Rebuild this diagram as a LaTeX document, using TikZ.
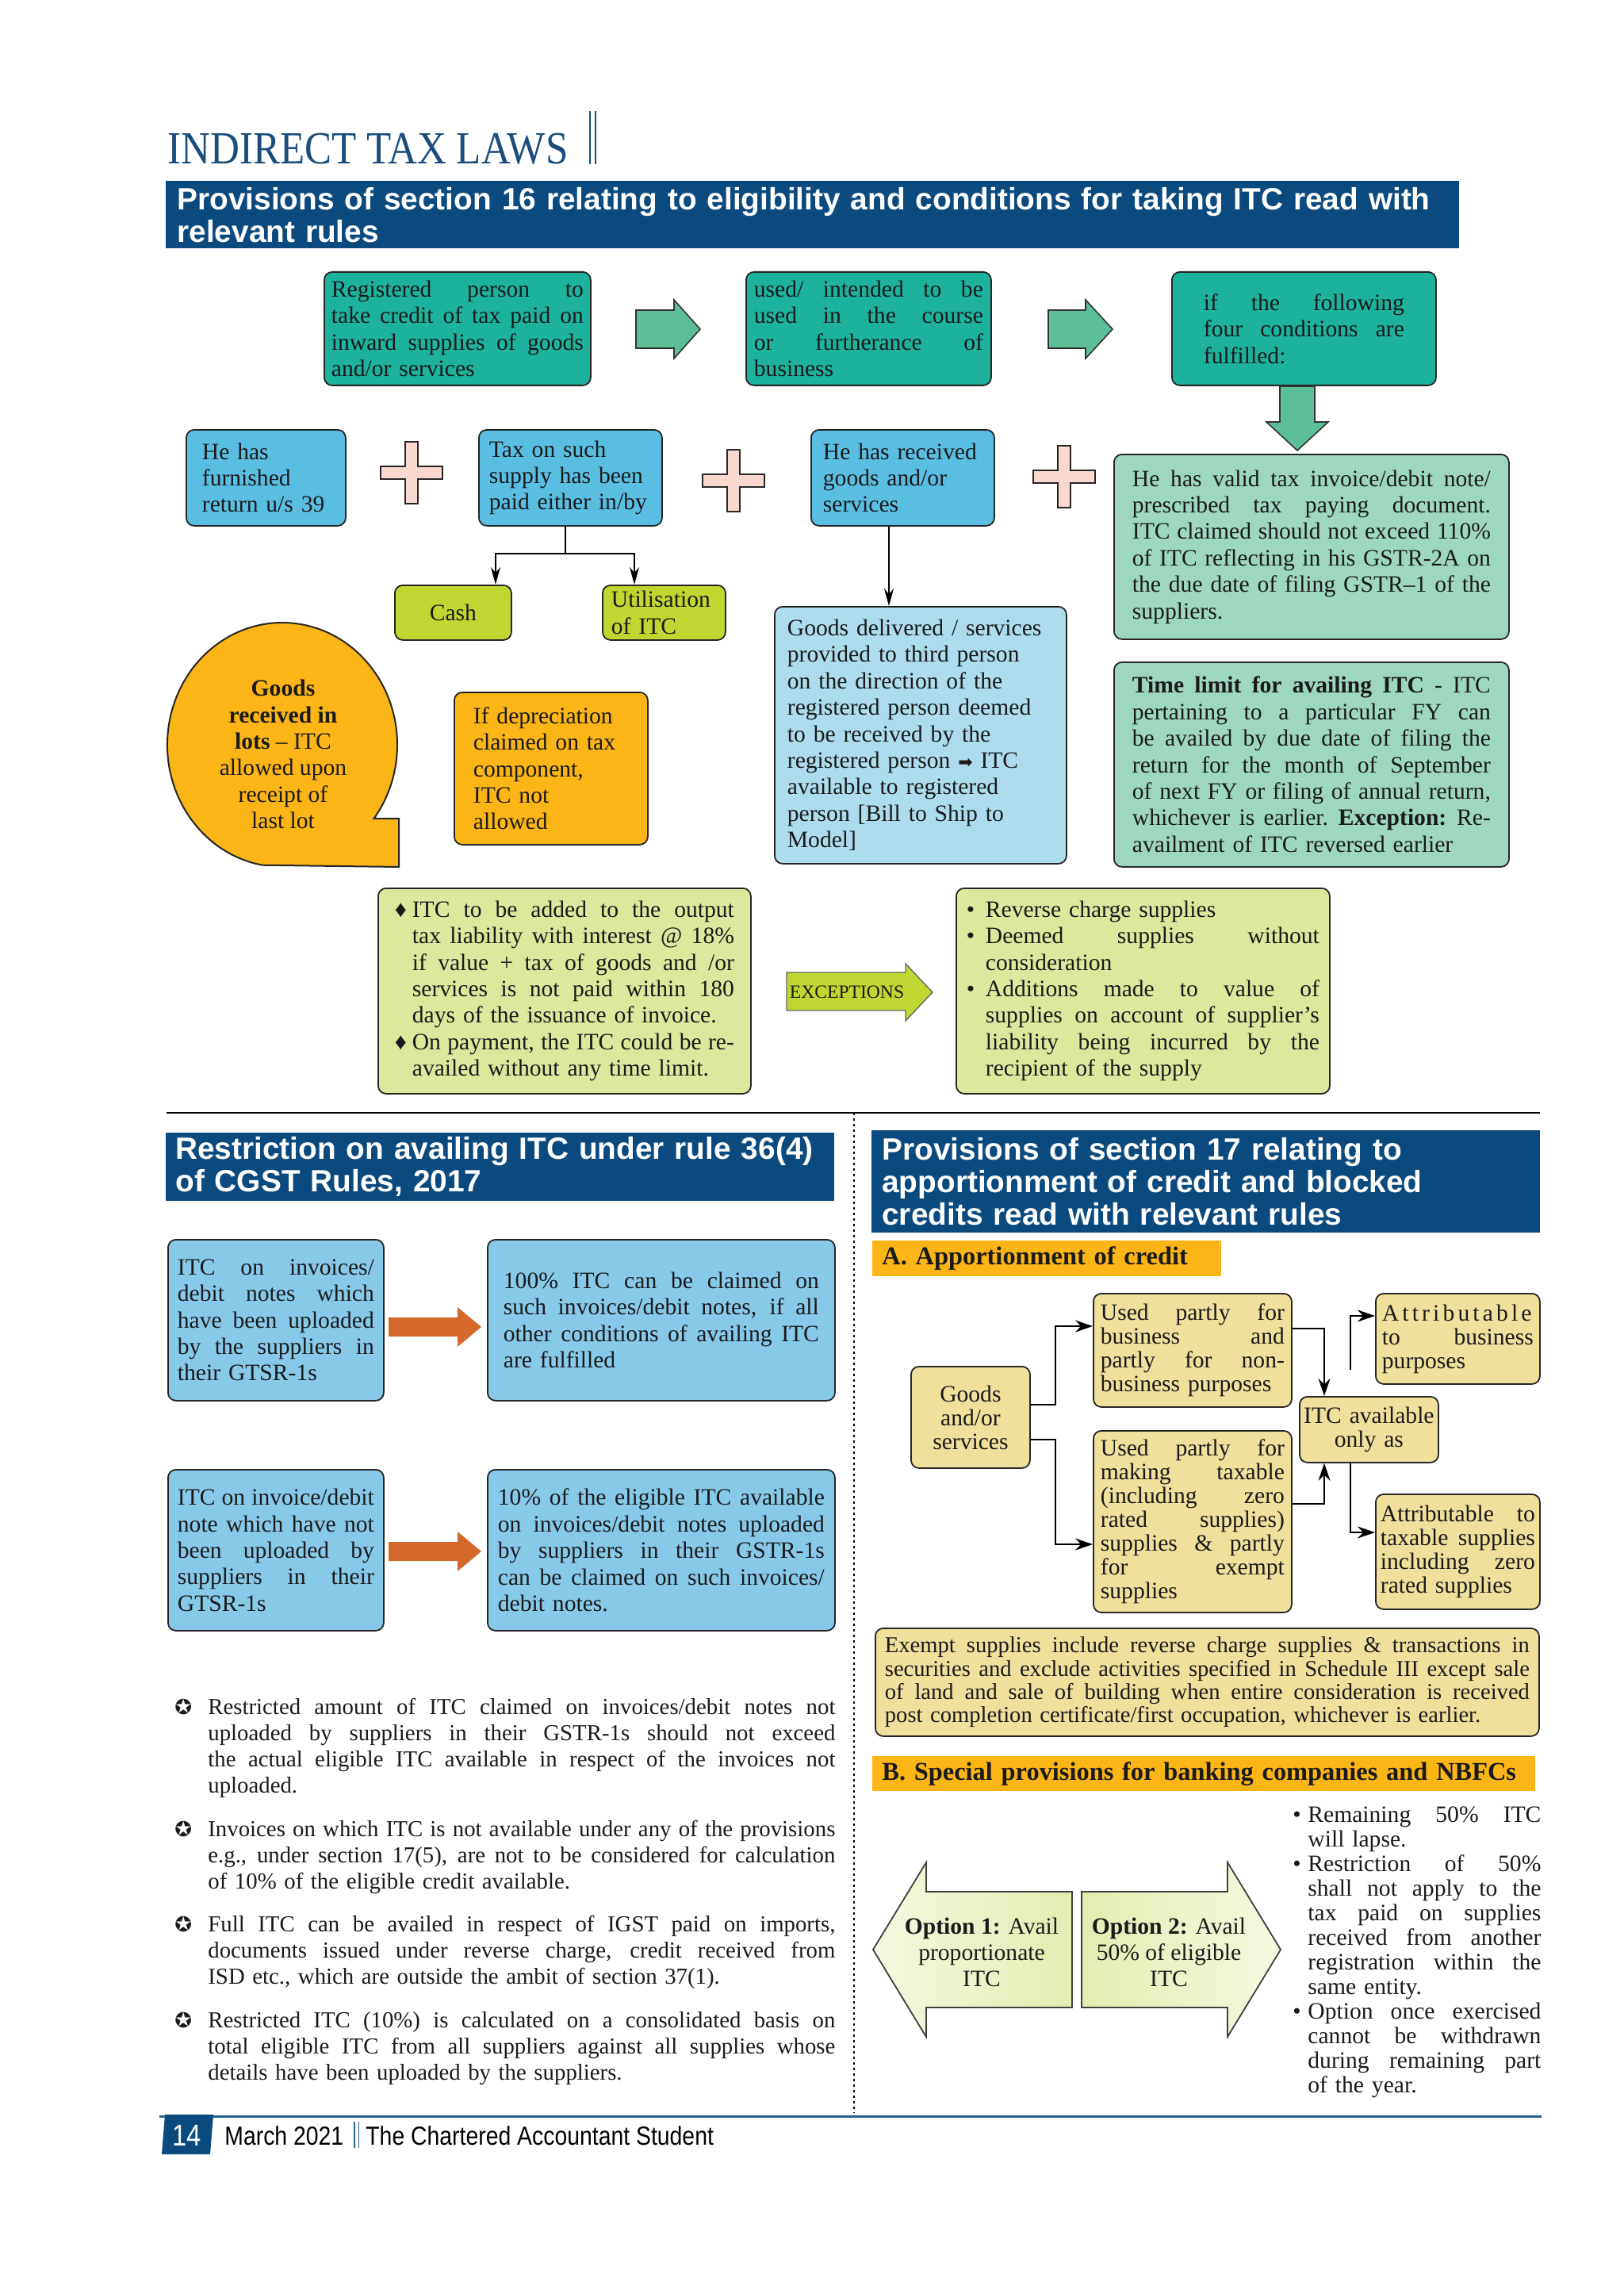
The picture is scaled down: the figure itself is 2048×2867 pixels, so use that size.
\documentclass[tikz,border=0pt]{standalone}
\usepackage{fontspec}
\setmainfont{Liberation Serif}
\newfontfamily\headfont{Liberation Sans}
\newfontfamily\footfont[FakeStretch=0.86]{Liberation Sans}
\newfontfamily\hdrserif[FakeStretch=0.88]{Liberation Serif}
\newfontfamily\symfont{DejaVu Sans}
\usetikzlibrary{arrows.meta,calc}

\definecolor{teal}{HTML}{1DB29B}
\definecolor{mintarr}{HTML}{5CBF97}
\definecolor{sky}{HTML}{5ABEE3}
\definecolor{pinkp}{HTML}{F9D8CF}
\definecolor{lime}{HTML}{BFD730}
\definecolor{amber}{HTML}{FBB516}
\definecolor{lblue}{HTML}{ADDCEC}
\definecolor{mintbox}{HTML}{9ED7C0}
\definecolor{limepale}{HTML}{DDE89D}
\definecolor{blue2}{HTML}{87C9E9}
\definecolor{orangeA}{HTML}{D5692C}
\definecolor{khaki}{HTML}{EFE09C}
\definecolor{navy}{HTML}{0B4A7E}
\definecolor{hdrblue}{HTML}{1A4C7C}
\definecolor{footblue}{HTML}{25628F}
\definecolor{txt}{HTML}{1A1A1A}

\newlength\bi
\newlength\jw
\newcommand{\sps}{\spaceskip=0.25em plus 4em minus 0.1em\relax\xspaceskip=0.3em plus 4em minus 0.1em\relax}
% justified line of fixed width \jw
\newcommand{\jl}[1]{\leavevmode\hbox to\jw{\sps #1}\\}
\newcommand{\bj}[2]{\leavevmode\hbox to\jw{\hbox to\bi{#1\hss}\hbox to\dimexpr\jw-\bi\relax{\sps #2}}\\}
\newcommand{\bn}[2]{\leavevmode\hbox to\bi{#1\hss}#2}

% #1 pad, #2 name, #3 x1, #4 y1, #5 x2, #6 y2, #7 style, #8 text
\newcommand{\bx}[8][5]{%
  \pgfmathsetlengthmacro\bxw{(#5-#3)*0.5}%
  \pgfmathsetlengthmacro\bxh{(#6-#4)*0.5}%
  \pgfmathsetlengthmacro\bxt{(#5-#3)*0.5-2*#1}%
  \global\jw=\bxt\relax
  \node[#7, anchor=north west, inner xsep=#1pt, minimum width=\bxw, minimum height=\bxh, text width=\bxt] (#2) at (#3,#4) {#8};}

\tikzset{
  bxs/.style={draw=black!85, line width=0.9pt, rounded corners=5pt, align=left, text=txt, font=\fontsize{14.8}{16.7}\selectfont},
  bxa/.style={bxs, font=\fontsize{14.8}{15}\selectfont},
  headbar/.style={fill=navy, align=left, text=white, inner ysep=2pt, font=\headfont\bfseries\fontsize{19.4}{20.5}\selectfont},
  subbar/.style={fill=amber, align=left, text=txt, inner ysep=1pt, font=\bfseries\fontsize{16.2}{18}\selectfont},
  tree/.style={draw=black, line width=0.8pt},
  treearr/.style={tree, -{Stealth[length=11pt,width=6pt]}},
  conA/.style={draw=black, line width=1pt, -{Stealth[length=11pt,width=7.5pt]}},
  blockarr/.style={draw=black!80, line width=0.8pt, fill=mintarr},
  plusst/.style={draw=black!85, line width=0.9pt, fill=pinkp},
  orarr/.style={fill=orangeA},
  optarr/.style={draw=black!75, line width=0.9pt},
  para/.style={anchor=base west, inner sep=0pt, align=left, text=txt, font=\fontsize{14.4}{16.5}\selectfont},
  star/.style={anchor=base west, inner sep=0pt, font=\symfont\fontsize{13}{13}\selectfont, text=txt},
}

\newcommand{\plussign}[2]{\filldraw[plusst] (#1-8,#2-39) -- ++(16,0) -- ++(0,31) -- ++(31,0) -- ++(0,16) -- ++(-31,0) -- ++(0,31) -- ++(-16,0) -- ++(0,-31) -- ++(-31,0) -- ++(0,-16) -- ++(31,0) -- cycle;}

\begin{document}
\begin{tikzpicture}[x=0.5pt,y=-0.5pt]
\useasboundingbox[fill=white] (0,0) rectangle (2048,2867);

% ---------- header ----------
\node[anchor=base west, inner sep=0pt, font=\hdrserif\fontsize{29}{30}\selectfont, text=hdrblue] (hdr) at (211,207) {INDIRECT TAX LAWS};
\draw[hdrblue, line width=1pt] (744,140) -- (744,207);
\draw[hdrblue, line width=0.6pt] (751,140) -- (751,207);

\bx[7]{h1}{209}{228}{1840}{313}{headbar}{Provisions of section 16 relating to eligibility and conditions for taking ITC read with\\relevant rules}

% ---------- top row ----------
\bx[4.5]{t1}{408}{342}{744}{485}{bxs, fill=teal}{\jl{Registered person to}\jl{take credit of tax paid on}\jl{inward supplies of goods}and/or services}
\bx[5]{t2}{940}{342}{1249}{485}{bxs, fill=teal}{\jl{used/ intended to be}\jl{used in the course}\jl{or furtherance of}business}
\bx[20]{t3}{1477}{342}{1810}{485}{bxs, fill=teal}{\jl{if the following}\jl{four conditions are}fulfilled:}

\filldraw[blockarr] (802,391) -- (850,391) -- (850,378) -- (883,415) -- (850,452) -- (850,439) -- (802,439) -- cycle;
\filldraw[blockarr] (1322,391) -- (1369,391) -- (1369,378) -- (1403,415) -- (1369,452) -- (1369,439) -- (1322,439) -- cycle;
\filldraw[blockarr] (1614,487) -- (1658,487) -- (1658,532) -- (1675,532) -- (1636,568) -- (1597,532) -- (1614,532) -- cycle;

% ---------- second row ----------
\bx[10]{b1}{234}{541}{435}{662}{bxs, fill=sky}{He has\\furnished\\return u/s 39}
\bx[6.5]{b2}{603}{541}{834}{662}{bxs, fill=sky}{Tax on such\\supply has been\\paid either in/by}
\bx[7.5]{b3}{1022}{541}{1253}{662}{bxs, fill=sky}{He has received\\goods and/or\\services}
\bx[11.5]{cond}{1404}{572}{1902}{805}{bxs, fill=mintbox}{\jl{He has valid tax invoice/debit note/}\jl{prescribed tax paying document.}\jl{ITC claimed should not exceed 110\%}\jl{of ITC reflecting in his GSTR-2A on}\jl{the due date of filing GSTR–1 of the}suppliers.}

\plussign{519}{596}
\plussign{925}{606}
\plussign{1342}{601}

% ---------- Cash / Utilisation ----------
\bx[3]{cash}{497}{737}{644}{806}{bxs, fill=lime, align=center}{Cash}
\bx[5.5]{util}{759}{737}{914}{806}{bxs, fill=lime}{Utilisation\\of ITC}

\draw[tree] (b2.south -| 713,0) -- (713,698) coordinate (j1);
\draw[treearr] (j1) -| (cash.north -| 625,0);
\draw[treearr] (j1) -| (util.north -| 800,0);
\draw[treearr, line width=0.6pt] (b3.south -| 1121,0) -- (1121,764);

% ---------- bubble ----------
\filldraw[fill=amber, draw=black!85, line width=1pt] (330.8,1090.7) arc[start angle=-100, end angle=-397.2, x radius=72.5pt, y radius=77pt] -- (503,1032) -- (503,1093) -- cycle;
\node[align=center, text=txt, font=\fontsize{14.8}{16.7}\selectfont] (bub) at (357,951) {\textbf{Goods}\\\textbf{received in}\\\textbf{lots} – ITC\\allowed upon\\receipt of\\last lot};

\bx[12]{dep}{572}{872}{816}{1064}{bxs, fill=amber}{If depreciation\\claimed on tax\\component,\\ITC not\\allowed}

\bx[8]{gd}{976}{764}{1344}{1088}{bxs, fill=lblue}{Goods delivered / services\\provided to third person\\on the direction of the\\registered person deemed\\to be received by the\\registered person {\symfont\fontsize{11}{11}\selectfont ➡} ITC\\available to registered\\person [Bill to Ship to\\Model]}

\bx[11.5]{tl}{1404}{834}{1902}{1092}{bxs, fill=mintbox}{\jl{\textbf{Time limit for availing ITC} - ITC}\jl{pertaining to a particular FY can}\jl{be availed by due date of filing the}\jl{return for the month of September}\jl{of next FY or filing of annual return,}\jl{whichever is earlier. \textbf{Exception:} Re-}availment of ITC reversed earlier}

% ---------- ITC added / exceptions ----------
\setlength\bi{11pt}
\bx[10.5]{itc}{476}{1119}{946}{1378}{bxs, fill=limepale}{\bj{♦}{ITC to be added to the output}\bj{}{tax liability with interest @ 18\%}\bj{}{if value + tax of goods and /or}\bj{}{services is not paid within 180}\bn{}{days of the issuance of invoice.}\\\bj{♦}{On payment, the ITC could be re-}\bn{}{availed without any time limit.}}

\setlength\bi{12pt}
\bx[6.5]{exc}{1205}{1119}{1676}{1378}{bxs, fill=limepale}{\bn{\textbullet}{Reverse charge supplies}\\\bj{\textbullet}{Deemed supplies without}\bn{}{consideration}\\\bj{\textbullet}{Additions made to value of}\bj{}{supplies on account of supplier’s}\bj{}{liability being incurred by the}\bn{}{recipient of the supply}}

\filldraw[fill=lime, draw=black!60, line width=0.7pt] (992,1226) -- (1142,1226) -- (1142,1215) -- (1176,1251) -- (1142,1287) -- (1142,1274) -- (992,1274) -- cycle;
\node[text=txt, font=\fontsize{11.8}{12}\selectfont] (exl) at (1068,1251) {EXCEPTIONS};

% ---------- separators ----------
\coordinate (sepL) at (210,1403);
\coordinate (sepR) at (1942,1403);
\draw[black, line width=1.1pt] (sepL) -- (sepR);
\coordinate (dt) at (1077,1403);
\coordinate (db) at (1077,2664);
\draw[black, line width=1.2pt, dash pattern=on 1.5pt off 2pt] (dt) -- (db);

% ---------- left section ----------
\bx[6]{h2}{209}{1428}{1052}{1514}{headbar}{Restriction on availing ITC under rule 36(4)\\of CGST Rules, 2017}

\bx[6]{l1}{211}{1562}{483}{1765}{bxs, fill=blue2}{\jl{ITC on invoices/}\jl{debit notes which}\jl{have been uploaded}\jl{by the suppliers in}their GTSR-1s}
\bx[10]{r1}{614}{1562}{1052}{1765}{bxs, fill=blue2}{\jl{100\% ITC can be claimed on}\jl{such invoices/debit notes, if all}\jl{other conditions of availing ITC}are fulfilled}
\bx[6]{l2}{211}{1852}{483}{2055}{bxs, fill=blue2}{\jl{ITC on invoice/debit}\jl{note which have not}\jl{been uploaded by}\jl{suppliers in their}GTSR-1s}
\bx[6.5]{r2}{614}{1852}{1052}{2055}{bxs, fill=blue2}{\jl{10\% of the eligible ITC available}\jl{on invoices/debit notes uploaded}\jl{by suppliers in their GSTR-1s}\jl{can be claimed on such invoices/}debit notes.}

\fill[orarr] (490,1661) -- (577,1661) -- (577,1648) -- (607,1673) -- (577,1698) -- (577,1685) -- (490,1685) -- cycle;
\fill[orarr] (490,1944) -- (577,1944) -- (577,1931) -- (607,1956) -- (577,1981) -- (577,1968) -- (490,1968) -- cycle;

\setlength\jw{395.5pt}
\node[star] (s1) at (220,2161) {✪};
\node[para, text width=395.5pt] (p1) at (262,2161) {\jl{Restricted amount of ITC claimed on invoices/debit notes not}\jl{uploaded by suppliers in their GSTR-1s should not exceed}\jl{the actual eligible ITC available in respect of the invoices not}uploaded.};
\node[star] (s2) at (220,2315) {✪};
\node[para, text width=395.5pt] (p2) at (262,2315) {\jl{Invoices on which ITC is not available under any of the provisions}\jl{e.g., under section 17(5), are not to be considered for calculation}of 10\% of the eligible credit available.};
\node[star] (s3) at (220,2435) {✪};
\node[para, text width=395.5pt] (p3) at (262,2435) {\jl{Full ITC can be availed in respect of IGST paid on imports,}\jl{documents issued under reverse charge, credit received from}ISD etc., which are outside the ambit of section 37(1).};
\node[star] (s4) at (220,2556) {✪};
\node[para, text width=395.5pt] (p4) at (262,2556) {\jl{Restricted ITC (10\%) is calculated on a consolidated basis on}\jl{total eligible ITC from all suppliers against all supplies whose}details have been uploaded by the suppliers.};

% ---------- right section ----------
\bx[6.5]{h3}{1099}{1425}{1942}{1554}{headbar}{Provisions of section 17 relating to\\apportionment of credit and blocked\\credits read with relevant rules}

\bx[6]{abar}{1100}{1564}{1540}{1609}{subbar}{A. Apportionment of credit}

\bx[3]{goods}{1148}{1722}{1298}{1850}{bxa, fill=khaki, align=center}{Goods\\and/or\\services}
\bx[4.5]{used1}{1378}{1630}{1628}{1773}{bxa, fill=khaki}{\jl{Used partly for}\jl{business and}\jl{partly for non-}business purposes}
\bx[4.5]{used2}{1378}{1803}{1628}{2032}{bxa, fill=khaki}{\jl{Used partly for}\jl{making taxable}\jl{(including zero}\jl{rated supplies)}\jl{supplies \& partly}\jl{for exempt}supplies}
\bx[2]{itca}{1638}{1760}{1813}{1843}{bxa, fill=khaki, align=center}{ITC available\\only as}
\bx[4]{att1}{1734}{1630}{1941}{1744}{bxa, fill=khaki}{\leavevmode\hbox to\jw{\addfontfeature{LetterSpace=14}Attributable\hss}\\\jl{to business}purposes}
\bx[3]{att2}{1734}{1883}{1941}{2028}{bxa, fill=khaki}{\jl{Attributable to}\jl{taxable supplies}\jl{including zero}rated supplies}

\draw[conA] (goods.east |- 0,1771) -- (1331,1771) |- (used1.west |- 0,1672);
\draw[conA] (goods.east |- 0,1815) -- (1331,1815) |- (used2.west |- 0,1947);
\draw[conA] (used1.east |- 0,1675) -| (itca.north -| 1670,0);
\draw[conA] (used2.east |- 0,1896) -| (itca.south -| 1670,0);
\coordinate (a1s) at (1703,1727);
\draw[conA] (a1s) |- (att1.west |- 0,1659);
\draw[conA] (itca.south -| 1703,0) |- (att2.west |- 0,1932);

\bx[6]{exm}{1103}{2052}{1940}{2188}{bxa, fill=khaki, font=\fontsize{14.3}{14.7}\selectfont}{\jl{Exempt supplies include reverse charge supplies \& transactions in}\jl{securities and exclude activities specified in Schedule III except sale}\jl{of land and sale of building when entire consideration is received}post completion certificate/first occupation, whichever is earlier.}

\bx[3]{bbar}{1100}{2214}{1936}{2258}{subbar}{\hspace*{3pt}B. Special provisions for banking companies and NBFCs}

\draw[optarr, left color=white!70!limepale, right color=limepale!80!white] (1101,2458) -- (1168,2348) -- (1168,2385) -- (1352,2385) -- (1352,2531) -- (1168,2531) -- (1168,2568) -- cycle;
\draw[optarr, left color=limepale!80!white, right color=white!70!limepale] (1615,2458) -- (1548,2348) -- (1548,2385) -- (1364,2385) -- (1364,2531) -- (1548,2531) -- (1548,2568) -- cycle;
\node[align=center, text=txt, font=\fontsize{14.8}{16.5}\selectfont] (o1) at (1238,2461) {\textbf{Option 1:} Avail\\proportionate\\ITC};
\node[align=center, text=txt, font=\fontsize{14.8}{16.5}\selectfont] (o2) at (1474,2461) {\textbf{Option 2:} Avail\\50\% of eligible\\ITC};

\setlength\jw{156.5pt}
\setlength\bi{9.5pt}
\node[para, text width=156.5pt, font=\fontsize{14.8}{15.5}\selectfont] (rb) at (1630,2297) {\bj{\textbullet}{Remaining 50\% ITC}\bn{}{will lapse.}\\\bj{\textbullet}{Restriction of 50\%}\bj{}{shall not apply to the}\bj{}{tax paid on supplies}\bj{}{received from another}\bj{}{registration within the}\bn{}{same entity.}\\\bj{\textbullet}{Option once exercised}\bj{}{cannot be withdrawn}\bj{}{during remaining part}\bn{}{of the year.}};

% ---------- footer ----------
\coordinate (fl) at (201,2668);
\coordinate (fr) at (1944,2668);
\draw[footblue, line width=1.5pt] (fl) -- (fr);
\fill[navy] (208,2666) -- (269,2666) -- (265,2716) -- (204,2716) -- cycle;
\node[text=white, font=\footfont\fontsize{19}{19}\selectfont] (pg) at (236,2692) {14};
\node[anchor=base west, inner sep=0pt, text=black, font=\footfont\fontsize{16.5}{17}\selectfont] (fm) at (283,2704) {March 2021};
\draw[footblue, line width=1pt] (447,2675) -- (447,2708);
\draw[footblue, line width=0.5pt] (452,2675) -- (452,2708);
\node[anchor=base west, inner sep=0pt, text=black, font=\footfont\fontsize{16.5}{17}\selectfont] (fs) at (461,2704) {The Chartered Accountant Student};

\end{tikzpicture}
\end{document}
